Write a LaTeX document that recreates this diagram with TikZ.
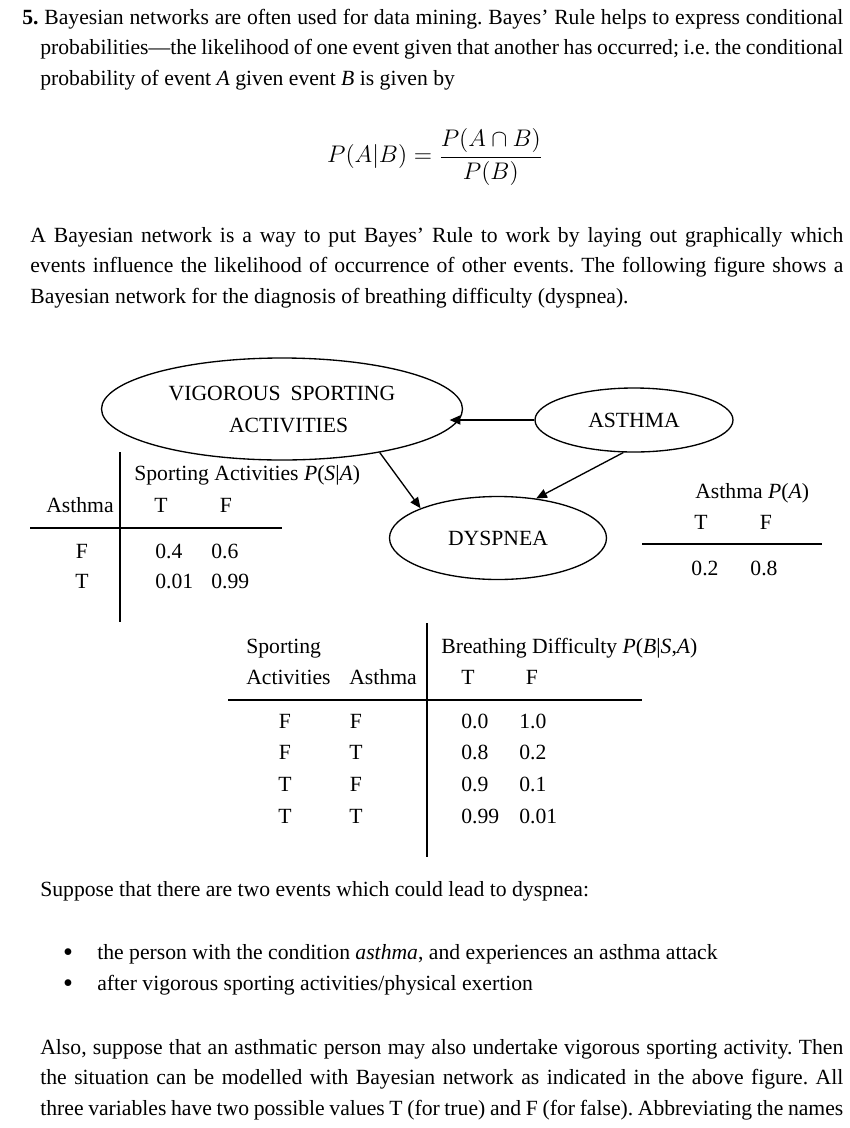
\documentclass[tikz,border=0pt]{standalone}
\usepackage{fontspec}
\setmainfont{Liberation Serif}
\usetikzlibrary{shapes.geometric, positioning, arrows.meta}

\tikzset{
  netnode/.style={draw, ellipse, line width=0.8pt, inner sep=0pt, align=center, font=\fontsize{13}{19.2}\selectfont},
  netarrow/.style={line width=0.8pt, -{Triangle[length=6.5pt,width=5.5pt]}},
  bodytext/.style={anchor=base west, inner sep=0pt, align=justify, text width=481.8pt, font=\fontsize{13}{18.3}\selectfont\frenchspacing},
  plaintext/.style={anchor=base west, inner sep=0pt, font=\fontsize{13}{18.3}\selectfont\frenchspacing},
  cell/.style={anchor=base, inner sep=0pt, font=\fontsize{13}{15}\selectfont},
  lcell/.style={anchor=base west, inner sep=0pt, font=\fontsize{13}{15}\selectfont},
  tabline/.style={line width=0.9pt}
}

\begin{document}
\begin{tikzpicture}[x=0.6pt, y=-0.6pt]
    \fill[white] (0,0) rectangle (850,1128);
    \useasboundingbox (0,0) rectangle (850,1128);

    % Question text
    \node[bodytext] (intro) at (40,24) {\hspace*{-10.8pt}\textbf{5.} Bayesian networks are often used for data mining. Bayes' Rule helps to express conditional\linebreak
      probabilities---the likelihood of one event given that another has occurred; i.e. the conditional\linebreak
      probability of event \textit{A} given event \textit{B} is given by};

    % Bayes' Rule
    \node[inner sep=0pt, font=\fontsize{13.5}{16}\selectfont] (rule) at (435,157) {$\displaystyle P(A|B) = \frac{P(A\cap B)}{P(B)}$};

    \node[bodytext, text width=487.8pt] (network) at (30,242) {A Bayesian network is a way to put Bayes' Rule to work by laying out graphically which\linebreak
      events influence the likelihood of occurrence of other events. The following figure shows a\linebreak
      Bayesian network for the diagnosis of breathing difficulty (dyspnea).};

    % Network
    \node[netnode, minimum width=216.6pt, minimum height=61.2pt] (sport) at (282,409) {VIGOROUS\hspace{6pt}SPORTING\\ \hspace*{8pt}ACTIVITIES};
    \node[netnode, minimum width=118.8pt, minimum height=38.4pt] (asthma) at (634,420) {ASTHMA};
    \node[netnode, minimum width=130.2pt, minimum height=49.8pt] (dysp) at (498,538) {DYSPNEA};

    \draw[netarrow, shorten >=-5pt] (asthma.west) -- (sport.-4 |- asthma.west);
    \draw[netarrow] (sport.-24) -- (dysp.159);
    \draw[netarrow] (asthma.-108) -- (dysp.46);

    % Sporting Activities table
    \node[lcell] (sHead) at (134,480) {Sporting Activities \textit{P}(\textit{S}|\textit{A})};
    \node[cell] (sAsthma) at (80,512) {Asthma};
    \node[cell] (sT) at (161,512) {T};
    \node[cell] (sF) at (226,512) {F};
    \node[cell] (sRowF) at (82,558) {F};
    \node[lcell] (sFT) at (155,558) {0.4};
    \node[lcell] (sFF) at (211,558) {0.6};
    \node[cell] (sRowT) at (82,588) {T};
    \node[lcell] (sTT) at (155,588) {0.01};
    \node[lcell] (sTF) at (211,588) {0.99};
    \draw[tabline] (30,528) -- (282,528);
    \draw[tabline] (120,452) -- (120,622);

    % Asthma table
    \node[lcell] (aHead) at (695,498) {Asthma \textit{P}(\textit{A})};
    \node[cell] (aT) at (701,529) {T};
    \node[cell] (aF) at (766,529) {F};
    \draw[tabline] (642,544) -- (822,544);
    \node[cell] (aTv) at (705,575) {0.2};
    \node[cell] (aFv) at (764,575) {0.8};

    % Breathing Difficulty table
    \node[lcell] (bSport) at (246,653) {Sporting};
    \node[lcell] (bAct) at (246,684) {Activities};
    \node[lcell] (bAsthma) at (349,684) {Asthma};
    \node[lcell] (bHead) at (441,653) {Breathing Difficulty \textit{P}(\textit{B}|\textit{S},\textit{A})};
    \node[cell] (bT) at (468,684) {T};
    \node[cell] (bF) at (532,684) {F};
    \draw[tabline] (228,700) -- (642,700);
    \draw[tabline] (427,623) -- (427,857);

    \node[cell] (r1s) at (285,728) {F};
    \node[cell] (r1a) at (356,728) {F};
    \node[lcell] (r1t) at (461,728) {0.0};
    \node[lcell] (r1f) at (519,728) {1.0};

    \node[cell] (r2s) at (285,759) {F};
    \node[cell] (r2a) at (356,759) {T};
    \node[lcell] (r2t) at (461,759) {0.8};
    \node[lcell] (r2f) at (519,759) {0.2};

    \node[cell] (r3s) at (285,791) {T};
    \node[cell] (r3a) at (356,791) {F};
    \node[lcell] (r3t) at (461,791) {0.9};
    \node[lcell] (r3f) at (519,791) {0.1};

    \node[cell] (r4s) at (285,823) {T};
    \node[cell] (r4a) at (356,823) {T};
    \node[lcell] (r4t) at (461,823) {0.99};
    \node[lcell] (r4f) at (519,823) {0.01};

    % Text after the figure
    \node[plaintext] (suppose) at (40,896) {Suppose that there are two events which could lead to dyspnea:};
    \node[cell, font=\fontsize{17}{17}\selectfont] (bul1) at (68,961) {\textbullet};
    \node[plaintext] (item1) at (97,959) {the person with the condition \textit{asthma}, and experiences an asthma attack};
    \node[cell, font=\fontsize{17}{17}\selectfont] (bul2) at (68,992) {\textbullet};
    \node[plaintext] (item2) at (97,990) {after vigorous sporting activities/physical exertion};

    \node[bodytext] (also) at (40,1054) {\parfillskip=0pt Also, suppose that an asthmatic person may also undertake vigorous sporting activity. Then\linebreak
      the situation can be modelled with Bayesian network as indicated in the above figure. All\linebreak
      three variables have two possible values T (for true) and F (for false). Abbreviating the names\par};
\end{tikzpicture}
\end{document}
